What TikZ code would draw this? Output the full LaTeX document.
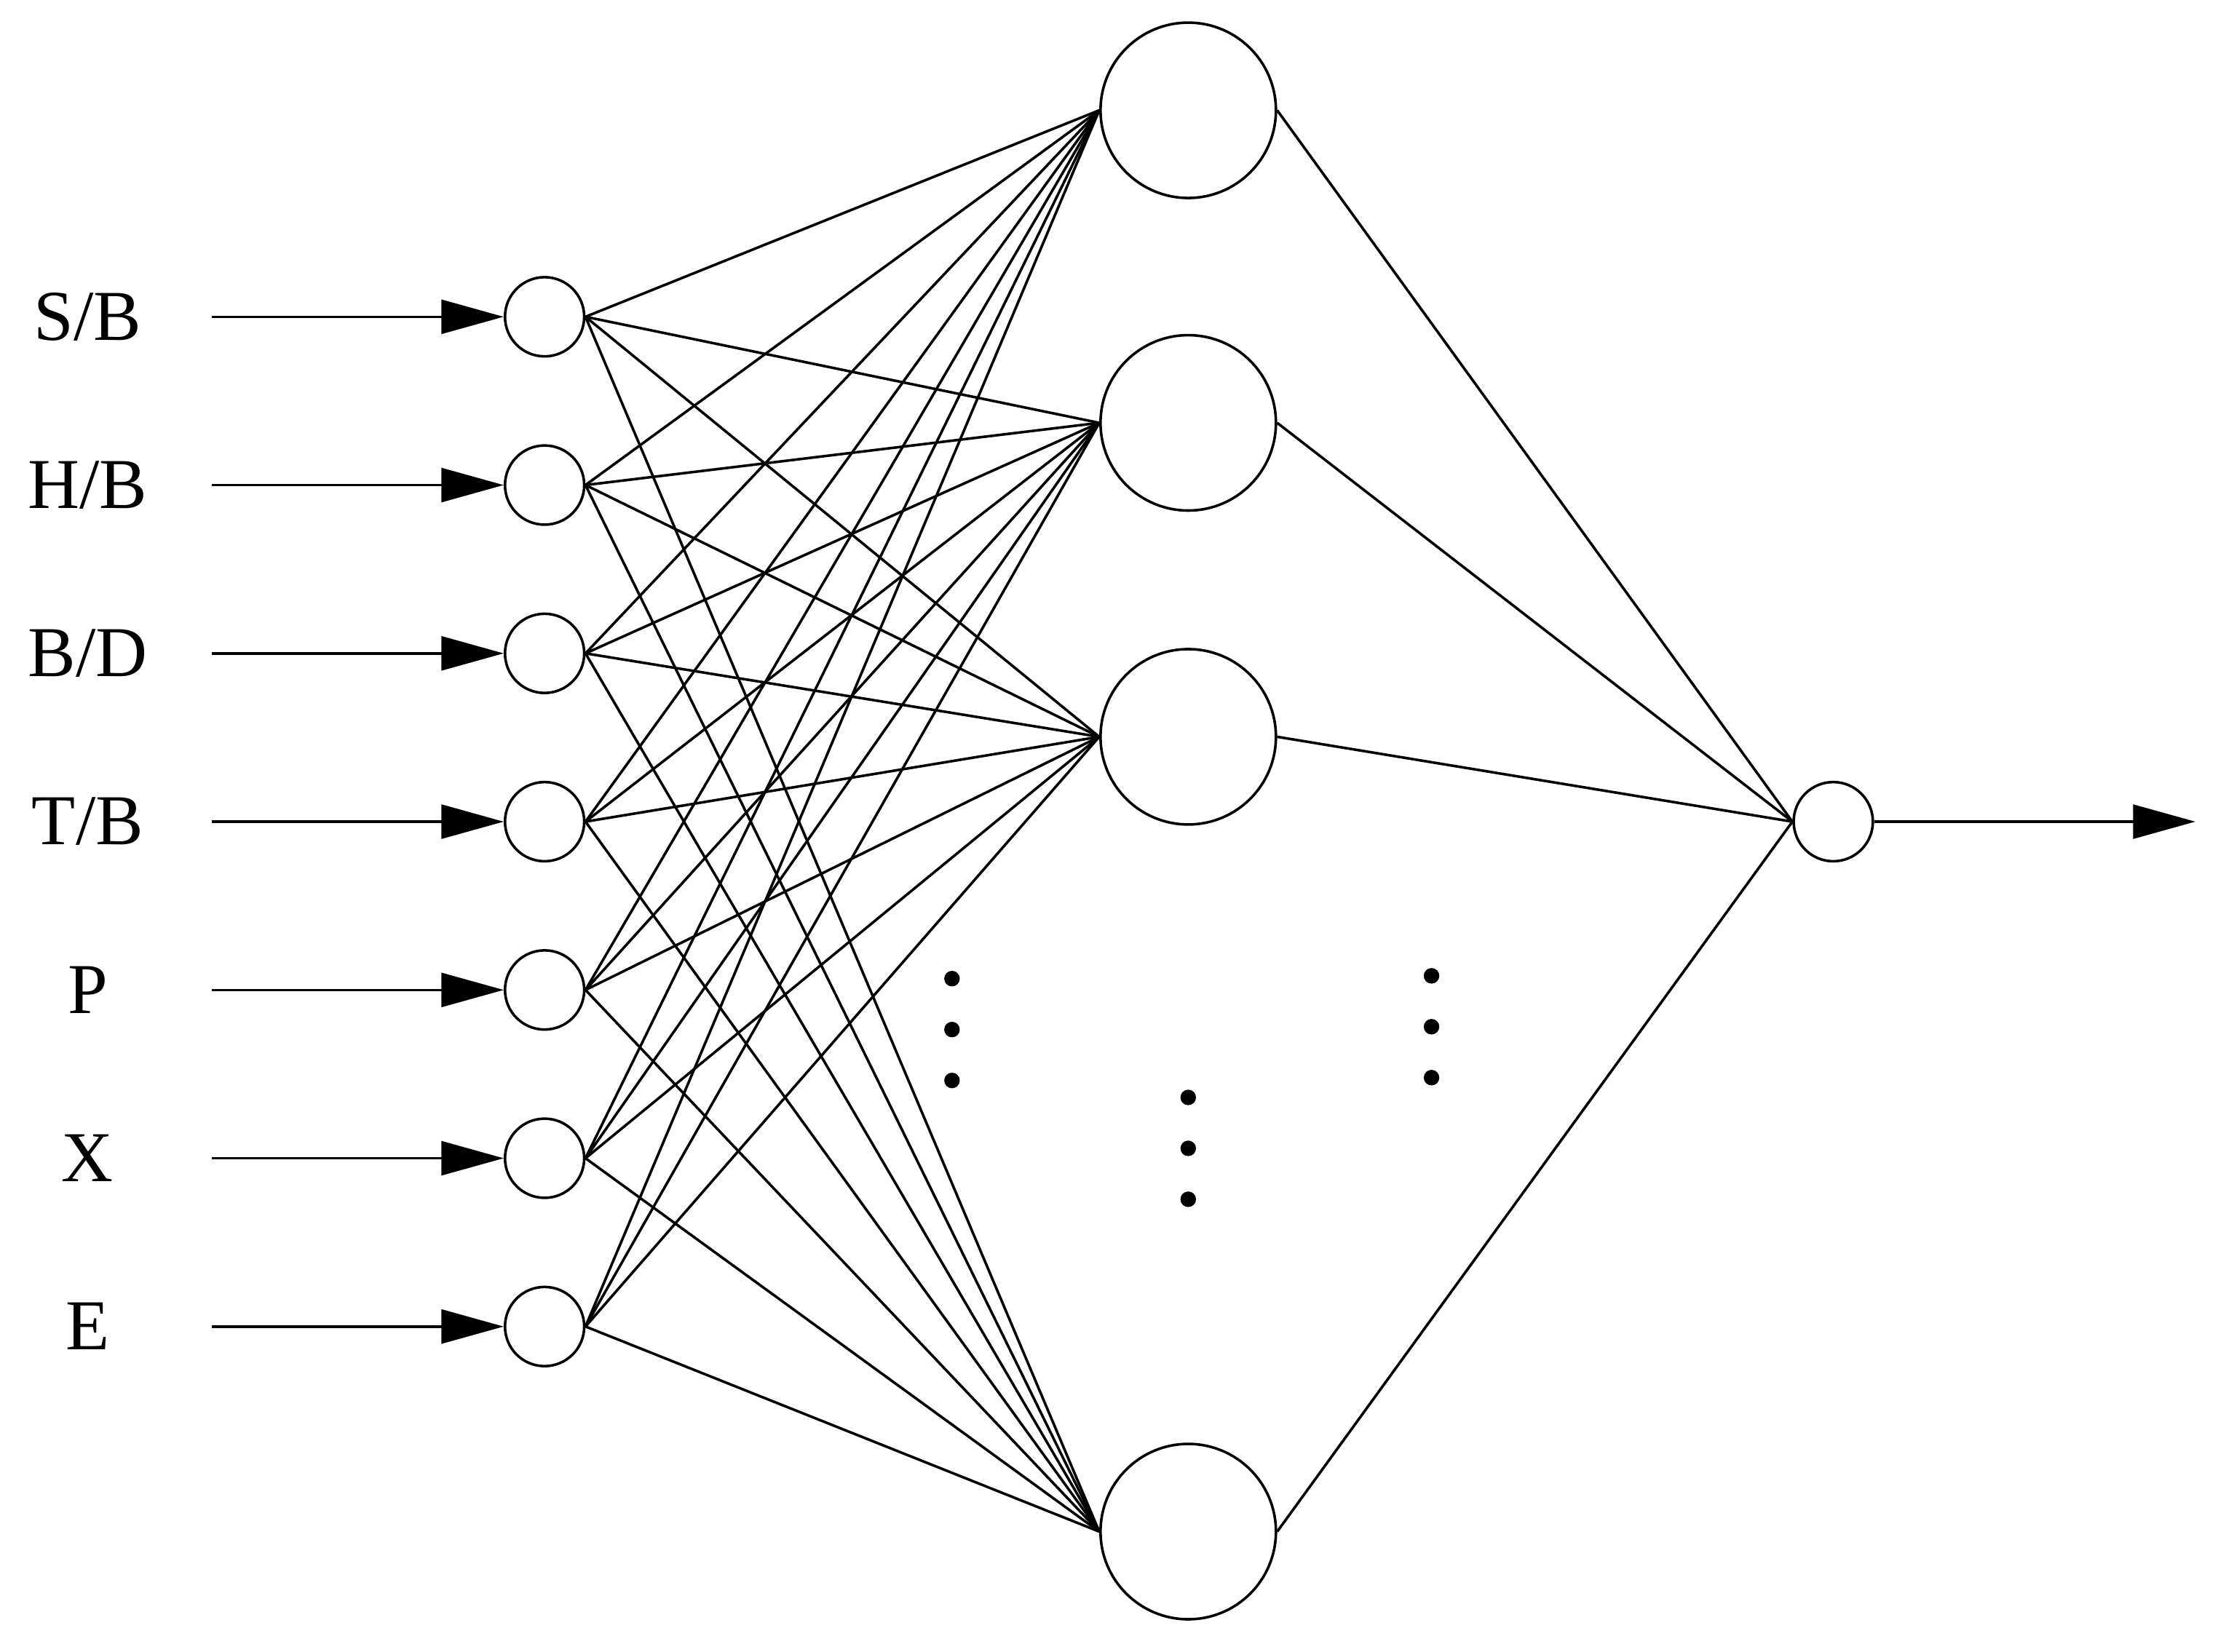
\documentclass[tikz,border=0pt]{standalone}
\usepackage{fontspec}
\setmainfont{Liberation Serif}
\usetikzlibrary{arrows.meta}
\begin{document}
\begin{tikzpicture}[x=0.05cm,y=-0.05cm,line width=2.6pt,
  inp/.style={circle,draw,minimum size=2.8cm,inner sep=0pt},
  hid/.style={circle,draw,minimum size=6.2cm,inner sep=0pt},
  lab/.style={font=\fontsize{72}{80}\selectfont},
  arr/.style={-{Triangle[length=2.2cm,width=1.2cm]}},
  dot/.style={fill,circle,inner sep=0pt,minimum size=0.55cm}]
\useasboundingbox (0,0) rectangle (1568,1168);
\foreach \n/\y/\t in {1/224/S\slash B,2/343/H\slash B,3/462/B\slash D,4/581/T\slash B,5/700/P,6/819/X,7/938/E}{
  \node[inp] (i\n) at (385,\y) {};
  \node[lab] (l\n) at (62,\y) {\t};
  \coordinate (s\n) at (150,\y);
  \draw[arr] (s\n) -- (i\n.west);
}
\foreach \n/\y in {1/78,2/299,3/521,4/1083}{
  \node[hid] (h\n) at (840,\y) {};
}
\node[inp] (o) at (1296,581) {};
\coordinate (e) at (1552,581);
\draw[arr] (o.east) -- (e);
\foreach \a in {1,...,7}{\foreach \b in {1,...,4}{\draw (i\a.east) -- (h\b.west);}}
\foreach \b in {1,...,4}{\draw (h\b.east) -- (o.west);}
\foreach \x/\y in {673/692,673/728,673/764,840/776,840/812,840/848,1012/690,1012/726,1012/762}{
  \node[dot] at (\x,\y) {};
}
\end{tikzpicture}
\end{document}
